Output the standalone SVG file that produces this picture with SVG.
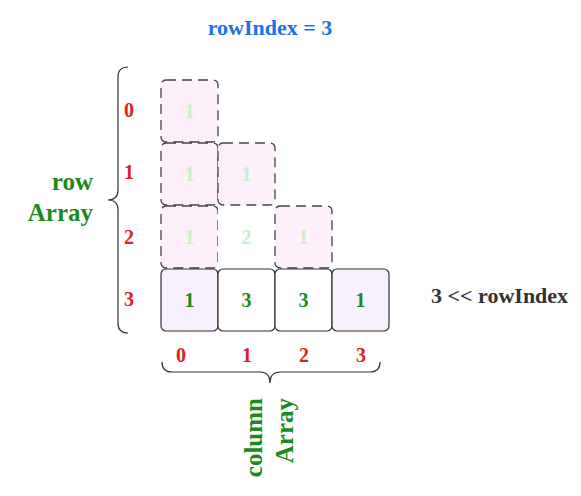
<svg xmlns="http://www.w3.org/2000/svg" width="581" height="496" viewBox="0 0 581 496">
<style>
text{font-family:"Liberation Serif","Times New Roman",serif;font-weight:bold}
.dash{fill:#fdf0fa;stroke:#444;stroke-width:1.3;stroke-dasharray:10,6}
.solid{stroke:#333;stroke-width:1.2}
.faint{fill:#c8f0c8;font-size:20px;text-anchor:middle}
.val{fill:#1a8a1a;font-size:20px;text-anchor:middle}
.idx{fill:#e02020;font-size:20px;text-anchor:middle}
.lbl{fill:#1a8a1a;font-size:25px}
.brace{fill:none;stroke:#333;stroke-width:1.2}
</style>
<text x="270" y="35" font-size="22" fill="#1a73e8" text-anchor="middle">rowIndex = 3</text>
<g id="row-labels">
<text class="idx" x="129" y="117">0</text>
<text class="idx" x="129" y="179">1</text>
<text class="idx" x="129" y="244">2</text>
<text class="idx" x="129" y="306">3</text>
</g>
<g id="col-labels">
<text class="idx" x="181" y="362">0</text>
<text class="idx" x="247" y="362">1</text>
<text class="idx" x="304" y="362">2</text>
<text class="idx" x="361" y="362">3</text>
</g>
<g id="cell-0-0"><rect class="dash" x="161" y="80" width="57" height="62" rx="5"/><text class="faint" x="189.5" y="118">1</text></g>
<g id="cell-1-0"><rect class="dash" x="161" y="143" width="57" height="62" rx="5"/><text class="faint" x="189.5" y="181">1</text></g>
<g id="cell-1-1"><rect class="dash" x="218" y="143" width="57" height="62" rx="5"/><text class="faint" x="246.5" y="181">1</text></g>
<g id="cell-2-0"><rect class="dash" x="161" y="206" width="57" height="62" rx="5"/><text class="faint" x="189.5" y="244">1</text></g>
<g id="cell-2-1"><rect x="218" y="206" width="57" height="62" fill="#fff"/><text class="faint" x="246.5" y="244">2</text></g>
<g id="cell-2-2"><rect class="dash" x="275" y="206" width="57" height="62" rx="5"/><text class="faint" x="303.5" y="244">1</text></g>
<g id="cell-3-0"><rect class="solid" fill="#f8f0fc" x="161" y="269" width="57" height="62" rx="5"/><text class="val" x="189.5" y="307">1</text></g>
<g id="cell-3-1"><rect class="solid" fill="#fff" x="218" y="269" width="57" height="62" rx="5"/><text class="val" x="246.5" y="307">3</text></g>
<g id="cell-3-2"><rect class="solid" fill="#fff" x="275" y="269" width="57" height="62" rx="5"/><text class="val" x="303.5" y="307">3</text></g>
<g id="cell-3-3"><rect class="solid" fill="#f8f0fc" x="332" y="269" width="57" height="62" rx="5"/><text class="val" x="360.5" y="307">1</text></g>
<g id="braces">
<path class="brace" d="M128,67 Q118,67 118,77 L118,190 Q118,200 108,200 Q118,200 118,210 L118,323 Q118,333 128,333"/>
<path class="brace" d="M162,362 Q162,372 172,372 L260,372 Q270,372 270,383 Q270,372 280,372 L370,372 Q380,372 380,362"/>
</g>
<text class="lbl" x="93" y="190" text-anchor="end">row</text>
<text class="lbl" x="93" y="221" text-anchor="end">Array</text>
<text class="lbl" transform="translate(262,398) rotate(-90)" text-anchor="end">column</text>
<text class="lbl" transform="translate(293,398) rotate(-90)" text-anchor="end">Array</text>
<text x="431" y="303" font-size="22" fill="#333">3 &lt;&lt; rowIndex</text>
</svg>
